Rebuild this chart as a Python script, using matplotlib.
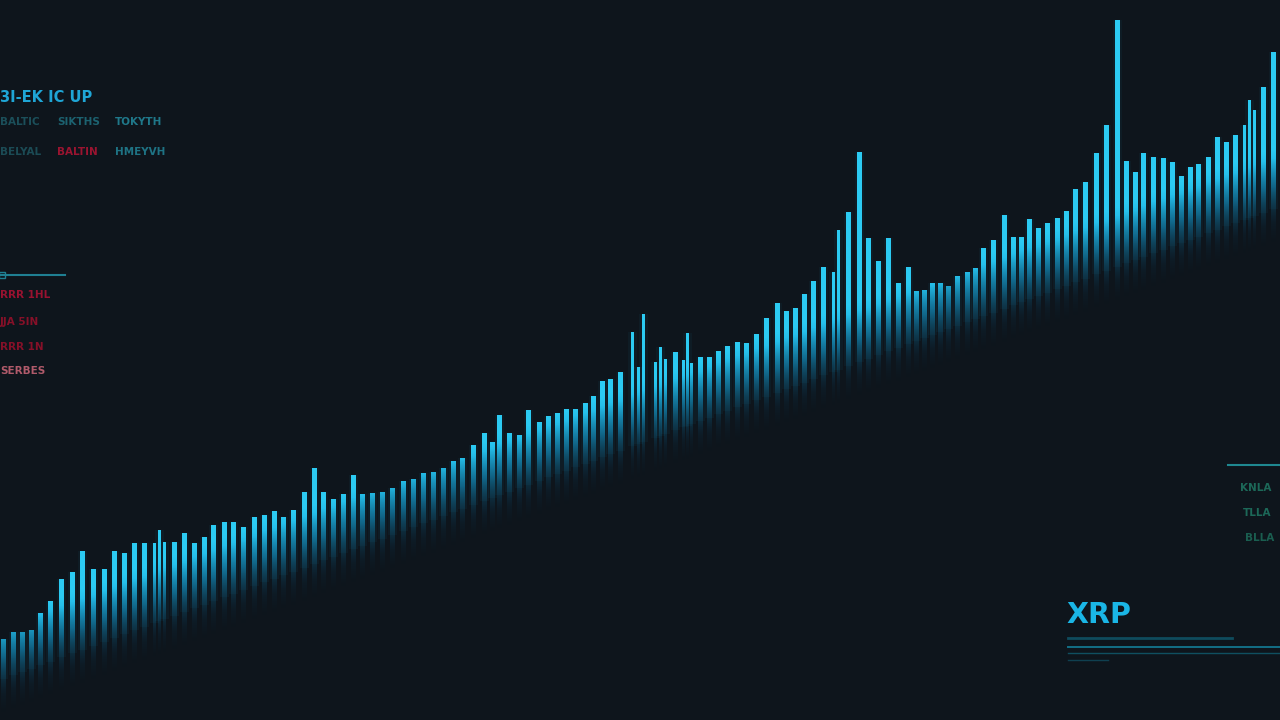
import numpy as np
import matplotlib
matplotlib.use("Agg")
import matplotlib.pyplot as plt
from matplotlib.colors import to_rgb

# ---- data (bar position, bar top height) ----
days = [3, 13, 22, 31, 40, 50, 61, 72, 82, 93, 104, 114, 124, 134, 144, 154, 159, 164, 174, 184,
        194, 204, 213, 224, 233, 243, 254, 264, 274, 283, 293, 304, 314, 323, 333, 343, 353, 362,
        372, 382, 392, 403, 413, 423, 433, 443, 453, 462, 473, 484, 492, 499, 509, 519, 528, 539,
        548, 557, 566, 575, 585, 593, 602, 610, 620, 632, 638, 643, 655, 660, 665, 675, 683, 687,
        691, 700, 709, 718, 727, 737, 746, 756, 766, 777, 786, 795, 804, 813, 823, 833, 838, 848,
        859, 868, 878, 888, 898, 908, 916, 924, 932, 940, 948, 957, 967, 975, 983, 993, 1004, 1013,
        1021, 1029, 1038, 1047, 1057, 1066, 1075, 1085, 1096, 1106, 1117, 1126, 1135, 1143, 1153,
        1163, 1172, 1181, 1190, 1198, 1208, 1217, 1226, 1235, 1244, 1249, 1254, 1263, 1273]
tops_px = [639, 632, 632, 630, 613, 601, 579, 572, 551, 569, 569, 551, 553, 543, 543, 543, 530, 542, 542, 533,
           543, 537, 525, 522, 522, 527, 517, 515, 511, 517, 510, 492, 468, 492, 499, 494, 475, 494,
           493, 492, 488, 481, 479, 473, 472, 468, 461, 458, 445, 433, 442, 415, 433, 435, 410, 422,
           416, 413, 409, 409, 403, 396, 381, 379, 372, 332, 367, 314, 362, 347, 359, 352, 360, 333,
           363, 357, 357, 351, 346, 342, 343, 334, 318, 303, 311, 308, 294, 281, 267, 272, 230, 212,
           152, 238, 261, 238, 283, 267, 291, 290, 283, 283, 286, 276, 272, 268, 248, 240, 215, 237,
           237, 219, 228, 223, 218, 211, 189, 182, 153, 125, 20, 161, 172, 153, 157, 158, 162, 176, 167,
           164, 157, 137, 142, 135, 125, 100, 110, 87, 52]
values = [720 - t for t in tops_px]

W, H = 1280, 720
BG = "#0e151c"

fig = plt.figure(figsize=(12.8, 7.2), dpi=100, facecolor=BG)
ax = fig.add_axes([0, 0, 1, 1], facecolor=BG)
ax.set_axis_off()

x = np.array(days, dtype=float)
v = np.array(values, dtype=float)
floor = 40 + 0.37 * x          # fade-out line under the bars
bottom = floor - 35

# narrower marks for bars squeezed between neighbours
gap = np.minimum(np.diff(np.r_[-10, x]), np.diff(np.r_[x, W + 10]))
width = np.where(gap < 7, 2.6, 4.6)

# soft glow behind bars
ax.bar(x, v - floor, bottom=floor, width=9, color="#1aa8e0", alpha=0.05, zorder=1)

bars = ax.bar(x, v - bottom, bottom=bottom, width=width, color="none", edgecolor="none", zorder=2)

c_top = np.array(to_rgb("#2ccbf3"))
c_mid = np.array(to_rgb("#149dd2"))
c_low = np.array(to_rgb("#0a4466"))
for b, xi, vi, fl, bo, wi in zip(bars, x, v, floor, bottom, width):
    n = 240
    yy = np.linspace(bo, vi, n)
    d = yy - fl
    t = np.clip((d + 15) / 75.0, 0, 1)[:, None]
    col = np.where(t < 0.5,
                   c_low + (c_mid - c_low) * (t / 0.5),
                   c_mid + (c_top - c_mid) * ((t - 0.5) / 0.5))
    alpha = np.clip((d + 35) / 85.0, 0, 1) ** 1.4
    img = np.zeros((n, 1, 4))
    img[:, 0, :3] = col
    img[:, 0, 3] = alpha
    im = ax.imshow(img, extent=[xi - wi / 2, xi + wi / 2, bo, vi], origin="lower",
                   aspect="auto", interpolation="bilinear", zorder=3)
    im.set_clip_path(b)

ax.set_xlim(0, W)
ax.set_ylim(0, H)


def T(px, py, s, color, size, weight="bold", ha="left"):
    ax.text(px, H - py, s, color=color, fontsize=size, fontweight=weight, ha=ha, va="center",
            family="DejaVu Sans", zorder=5)


# top-left panel
T(0, 97, "3I-EK IC UP", "#1fa6d6", 10.5)
T(0, 122, "BALTIC", "#1b4f5a", 7.5)
T(57, 122, "SIKTHS", "#1c6270", 7.5)
T(115, 122, "TOKYTH", "#1f788a", 7.5)
T(0, 152, "BELYAL", "#1b4b55", 7.5)
T(57, 152, "BALTIN", "#9a1430", 7.5)
T(115, 152, "HMEYVH", "#1e7384", 7.5)

ax.plot([0, 65], [H - 275, H - 275], color="#1f7f92", lw=1.5, zorder=5)
ax.plot([2], [H - 275], marker="s", ms=4, mfc="none", mec="#1f7f92", zorder=5)
T(0, 295, "RRR 1HL", "#981230", 7.5)
T(0, 322, "JJA 5IN", "#861028", 7.5)
T(0, 347, "RRR 1N", "#861028", 7.5)
T(0, 371, "SERBES", "#b05a6a", 7.5)

# right panel
ax.plot([1228, 1280], [H - 465, H - 465], color="#1f8890", lw=1.5, zorder=5)
T(1240, 488, "KNLA", "#1c6858", 7.5)
T(1243, 513, "TLLA", "#1c6858", 7.5)
T(1245, 538, "BLLA", "#1a5e50", 7.5)

T(1066, 615, "XRP", "#1ab6e6", 20.5)
ax.plot([1068, 1232], [H - 638, H - 638], color="#0f4b5d", lw=2, zorder=5)
ax.plot([1068, 1280], [H - 647, H - 647], color="#136f86", lw=1.4, zorder=5)
ax.plot([1068, 1280], [H - 653, H - 653], color="#0f4f60", lw=1.0, zorder=5)
ax.plot([1068, 1108], [H - 660, H - 660], color="#0f4050", lw=1.0, zorder=5)

fig.savefig("out.png", dpi=100, facecolor=BG)
